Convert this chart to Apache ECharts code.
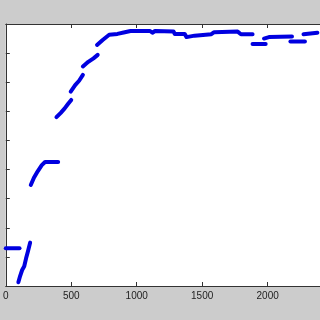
<!DOCTYPE html>
<html><head><meta charset="utf-8">
<script src="https://cdn.jsdelivr.net/npm/echarts@6/dist/echarts.min.js"></script>
<style>html,body{margin:0;padding:0;background:#cccccc;}#c{width:320px;height:320px;}</style>
</head><body><div id="c"></div>
<script>
const xTicks = [0, 500, 1000, 1500, 2000];
const seg1 = [[0,1.30],[105,1.30]];
const seg2 = [[96,0.13],[110,0.35],[125,0.55],[141,0.68],[155,0.95],[170,1.2],[186,1.49]];
const seg3 = [[191,3.47],[215,3.72],[245,3.95],[275,4.15],[300,4.26],[400,4.26]];
const seg4 = [[387,5.80],[420,5.95],[450,6.10],[475,6.25],[500,6.39]];
const seg5 = [[496,6.68],[530,6.90],[560,7.05],[589,7.25]];
const seg6 = [[589,7.54],[630,7.70],[670,7.82],[702,7.94]];
const seg7 = [[697,8.28],[740,8.45],[790,8.63],[853,8.66],[900,8.71],[953,8.76],[1102,8.76],[1120,8.70],[1140,8.76],[1281,8.74],[1291,8.66],[1366,8.66],[1381,8.55],[1442,8.60],[1570,8.65],[1592,8.72],[1771,8.74],[1796,8.65],[1885,8.65]];
const seg8 = [[1885,8.31],[1985,8.31]];
const seg9 = [[1972,8.50],[2010,8.55],[2186,8.57]];
const seg10 = [[2174,8.40],[2285,8.40]];
const seg11 = [[2274,8.65],[2380,8.70]];
const segments = [seg1, seg2, seg3, seg4, seg5, seg6, seg7, seg8, seg9, seg10, seg11];

const chart = echarts.init(document.getElementById('c'), null, {renderer:'canvas'});
const axisCol = '#333333';
chart.setOption({
  backgroundColor: '#cccccc',
  animation: false,
  grid: {left: 2, top: 24, right: 0, bottom: 34, show: true, backgroundColor: '#ffffff', borderWidth: 0},
  xAxis: [{
    type: 'value', min: 0, max: 2400, interval: 500, position: 'bottom',
    axisLine: {show: true, lineStyle: {color: axisCol, width: 1}},
    axisTick: {show: true, inside: true, length: 4, lineStyle: {color: axisCol}},
    axisLabel: {show: true, margin: 5, fontSize: 10, color: '#222', fontFamily: 'Liberation Sans',
      showMaxLabel: false, formatter: v => xTicks.includes(v) ? String(v) : ''},
    splitLine: {show: false}
  }, {
    type: 'value', min: 0, max: 2400, interval: 500, position: 'top',
    axisLine: {show: true, lineStyle: {color: axisCol, width: 1}},
    axisTick: {show: true, inside: true, length: 4, lineStyle: {color: axisCol}},
    axisLabel: {show: false}, splitLine: {show: false}
  }],
  yAxis: {
    type: 'value', min: 0, max: 9, interval: 1,
    axisLine: {show: true, lineStyle: {color: axisCol, width: 1}},
    axisTick: {show: true, inside: true, length: 4, lineStyle: {color: axisCol}},
    axisLabel: {show: false}, splitLine: {show: false}
  },
  series: segments.map(s => ({
    type: 'line', data: s, xAxisIndex: 0, showSymbol: false, symbol: 'none',
    lineStyle: {color: '#0000e0', width: 4, cap: 'round', join: 'round'}
  }))
});
</script></body></html>
